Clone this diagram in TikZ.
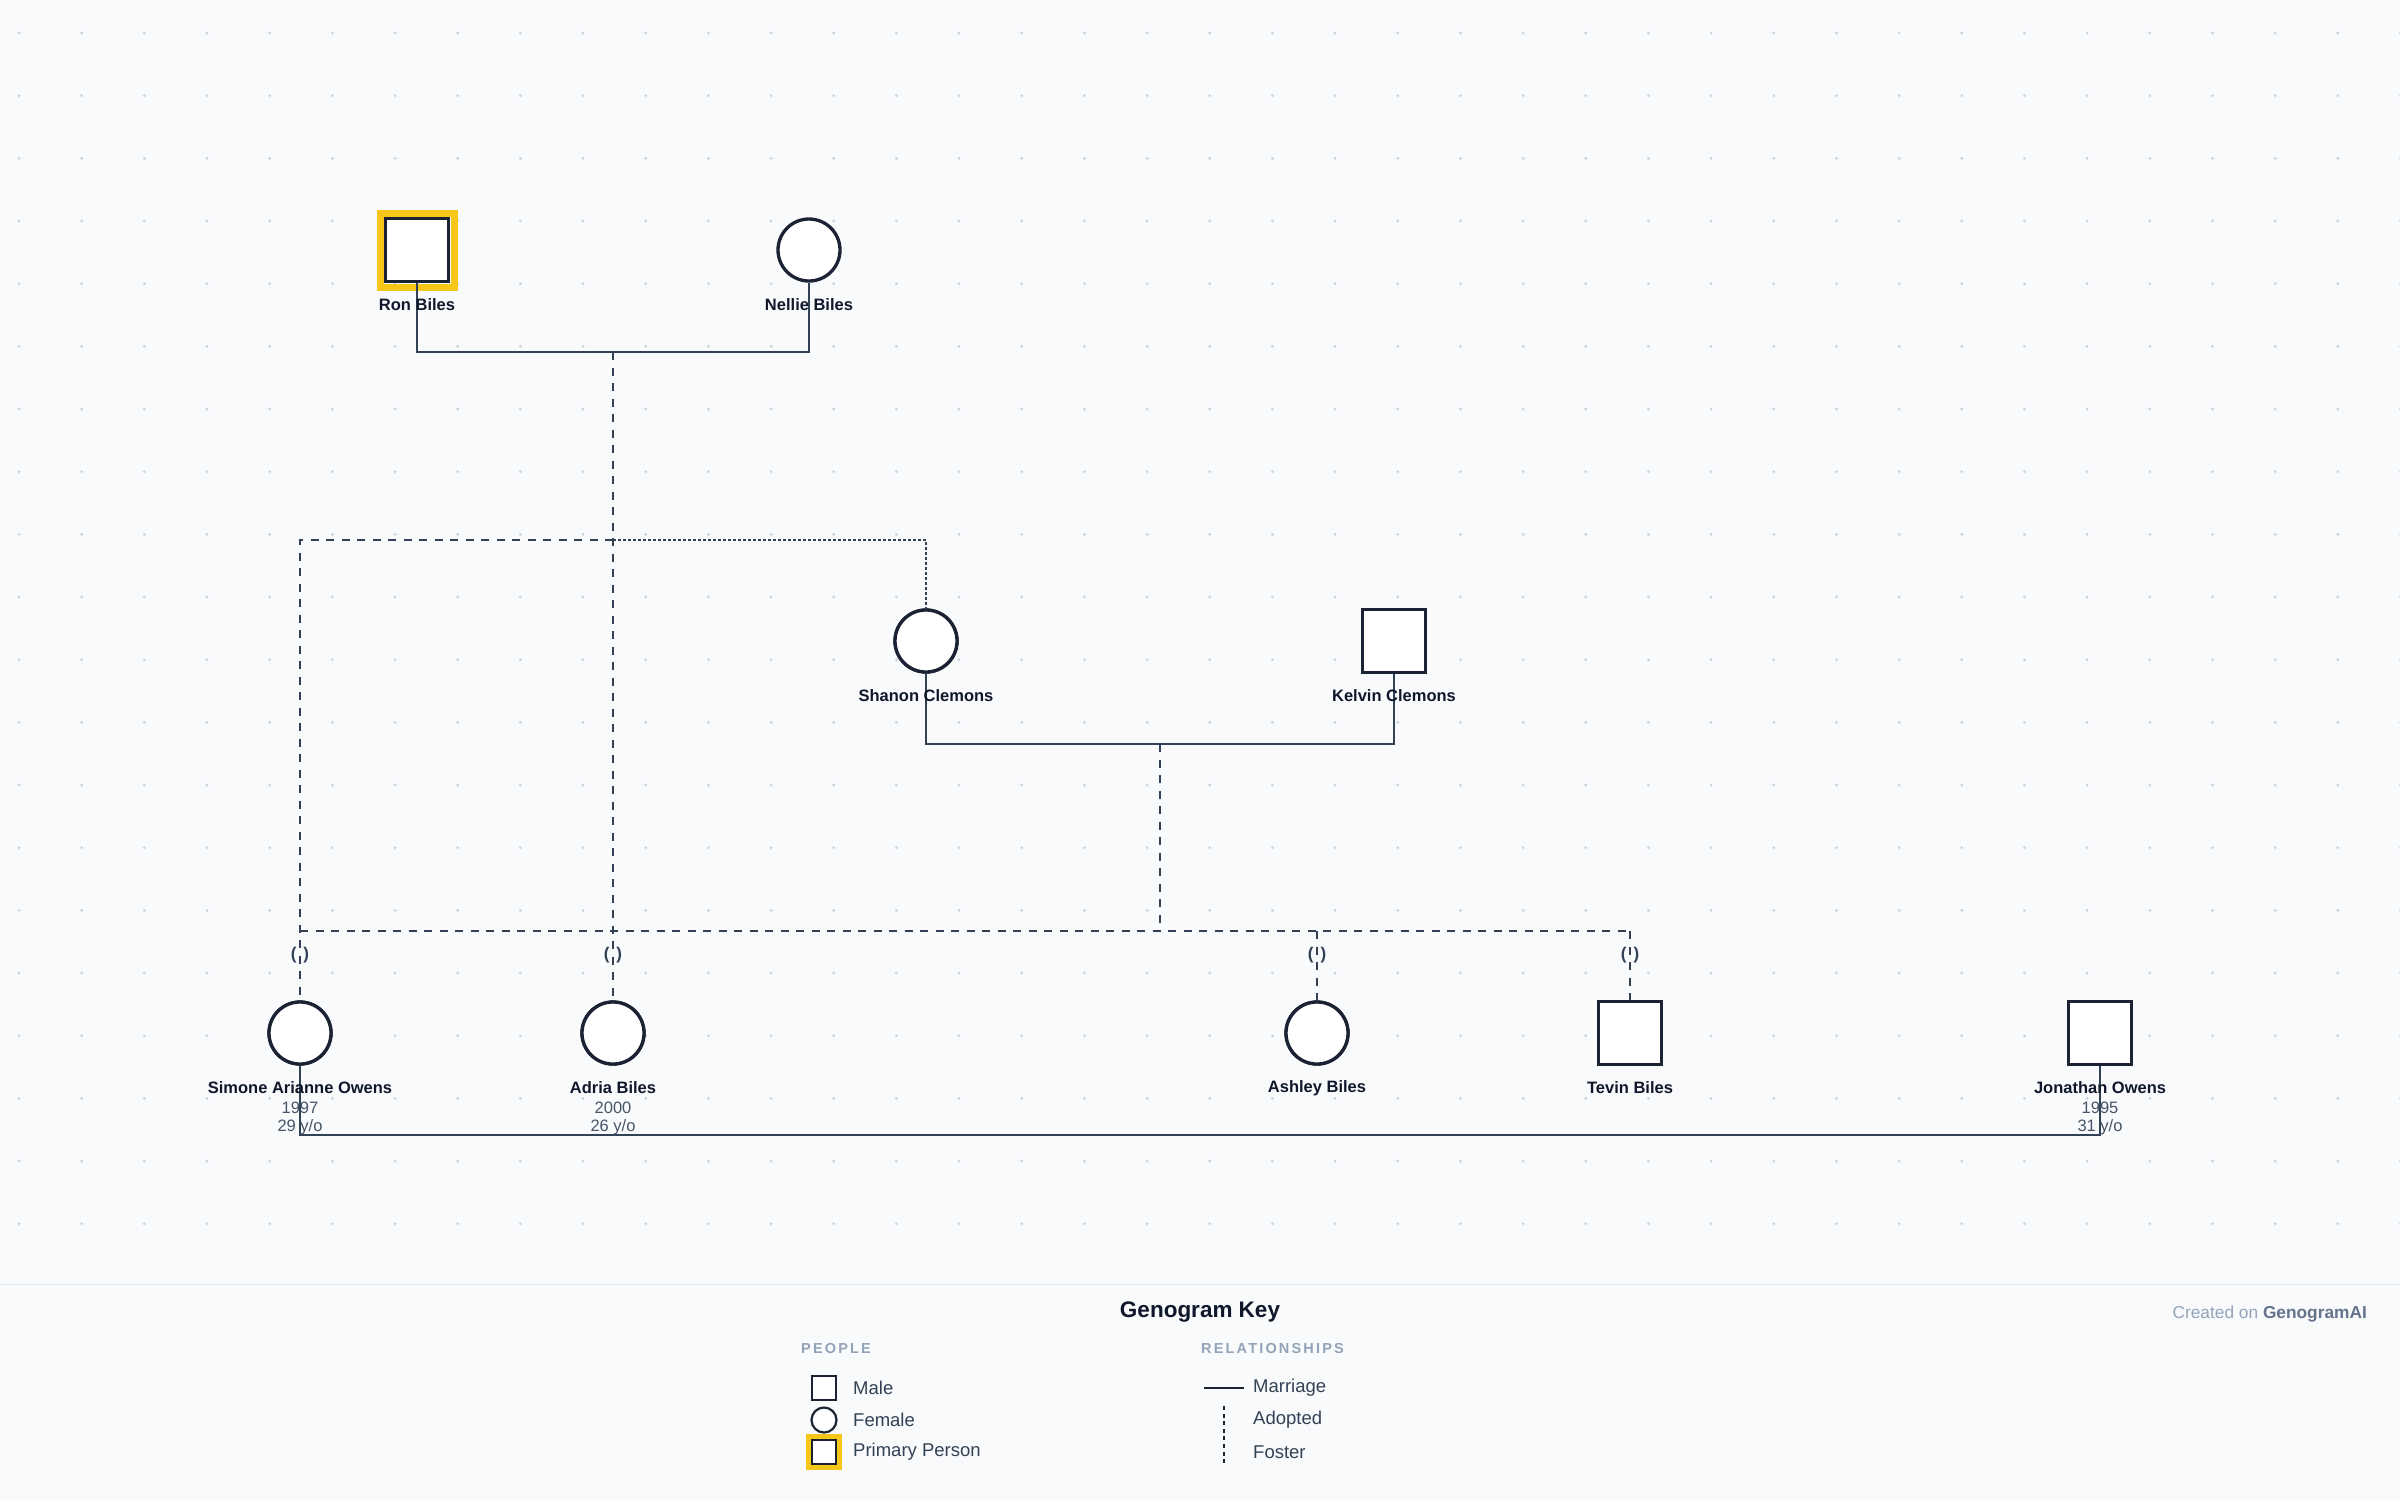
\documentclass[tikz,border=0pt]{standalone}
\usepackage{fontspec}
\setmainfont{Liberation Sans}
\definecolor{bgc}{HTML}{F8FAFC}
\definecolor{dotc}{HTML}{CBD5E1}
\definecolor{linec}{HTML}{334155}
\definecolor{shapec}{HTML}{1A2233}
\definecolor{textc}{HTML}{0F172A}
\definecolor{subc}{HTML}{475569}
\definecolor{yelc}{HTML}{F6C619}
\definecolor{sepc}{HTML}{E2E8F0}
\definecolor{headc}{HTML}{94A3B8}
\definecolor{credc}{HTML}{64748B}
\tikzset{
  male/.style={rectangle, draw=shapec, line width=3.3pt, fill=white, minimum size=63pt, inner sep=0pt},
  female/.style={circle, draw=shapec, line width=3.3pt, fill=white, minimum size=62pt, inner sep=0pt},
  primring/.style={rectangle, draw=yelc, line width=7pt, minimum size=74pt, inner sep=0pt},
  namel/.style={text=textc, font=\fontsize{16.5}{19}\selectfont\bfseries, inner sep=1pt},
  subl/.style={text=subc, font=\fontsize{16.5}{19}\selectfont, inner sep=1pt},
  marr/.style={draw=linec, line width=2pt},
  adopt/.style={draw=linec, line width=2pt, dash pattern=on 8pt off 7.5pt},
  foster/.style={draw=linec, line width=2pt, dash pattern=on 2.5pt off 2.5pt},
  flagmk/.style={text=linec, font=\fontsize{17}{19}\selectfont\bfseries, inner sep=0pt},
  keyhead/.style={text=headc, font=\fontsize{14.5}{17}\selectfont\bfseries\addfontfeatures{LetterSpace=15}, anchor=west, inner sep=0pt},
  keytext/.style={text=linec, font=\fontsize{18.5}{21}\selectfont, anchor=west, inner sep=0pt},
  kmale/.style={rectangle, draw=shapec, line width=2.2pt, fill=white, minimum size=24pt, inner sep=0pt},
  kfemale/.style={circle, draw=shapec, line width=2.2pt, fill=white, minimum size=25pt, inner sep=0pt},
  kring/.style={rectangle, draw=yelc, line width=4.6pt, minimum size=31.5pt, inner sep=0pt},
}
\begin{document}
\begin{tikzpicture}[x=1pt,y=-1pt]
\path[use as bounding box, fill=bgc] (0,0) rectangle (2400,1500);
% dot grid
\foreach \i in {0,...,38} {
  \foreach \j in {0,...,19} {
    \fill[dotc] ({19+62.67*\i},{33+62.67*\j}) circle (1.6);
  }
}
% coordinates
\coordinate (m1) at (613,352);
\coordinate (j1) at (613,540);
\coordinate (m2) at (1160,744);
\coordinate (j2) at (1160,931);
\coordinate (m3) at (1200,1135);

% people
\node[primring] (ronring) at (417,250) {};
\node[male] (ron) at (417,250) {};
\node[female] (nellie) at (809,250) {};
\node[female] (shanon) at (926,641) {};
\node[male] (kelvin) at (1394,641) {};
\node[female] (simone) at (300,1033) {};
\node[female] (adria) at (613,1033) {};
\node[female] (ashley) at (1317,1033) {};
\node[male] (tevin) at (1630,1033) {};
\node[male] (jon) at (2100,1033) {};

% connectors
\draw[marr] (ron.south) -- (ron.south |- m1) -- (nellie.south |- m1) -- (nellie.south);
\draw[adopt] (m1) -- (adria.north);
\draw[adopt] (j1) -| (simone.north);
\draw[foster] (j1) -| (shanon.north);
\draw[marr] (shanon.south) -- (shanon.south |- m2) -- (kelvin.south |- m2) -- (kelvin.south);
\draw[adopt] (m2) -- (j2);
\draw[adopt] (simone.north |- j2) -- (tevin.north |- j2);
\draw[adopt] (ashley.north |- j2) -- (ashley.north);
\draw[adopt] (tevin.north |- j2) -- (tevin.north);
\draw[marr] (simone.south) -- (simone.south |- m3) -- (jon.south |- m3) -- (jon.south);

% redraw shapes on top of connector ends
\node[female] at (shanon) {};
\node[female] at (simone) {};
\node[female] at (adria) {};
\node[female] at (ashley) {};
\node[male] at (tevin) {};

% adoption markers
\node[flagmk] (fk1) at (300,955) {(\hspace{7pt})};
\node[flagmk] (fk2) at (613,955) {(\hspace{7pt})};
\node[flagmk] (fk3) at (1317,955) {(\hspace{7pt})};
\node[flagmk] (fk4) at (1630,955) {(\hspace{7pt})};

% labels
\node[namel] (ronL) at (417,305) {Ron Biles};
\node[namel] (nellieL) at (809,305) {Nellie Biles};
\node[namel] (shanonL) at (926,696) {Shanon Clemons};
\node[namel] (kelvinL) at (1394,696) {Kelvin Clemons};
\node[namel] (simoneL) at (300,1088) {Simone Arianne Owens};
\node[subl] (simoneY) at (300,1108) {1997};
\node[subl] (simoneA) at (300,1127) {29 y/o};
\node[namel] (adriaL) at (613,1088) {Adria Biles};
\node[subl] (adriaY) at (613,1108) {2000};
\node[subl] (adriaA) at (613,1127) {26 y/o};
\node[namel] (ashleyL) at (1317,1088) {Ashley Biles};
\node[namel] (tevinL) at (1630,1088) {Tevin Biles};
\node[namel] (jonL) at (2100,1088) {Jonathan Owens};
\node[subl] (jonY) at (2100,1108) {1995};
\node[subl] (jonA) at (2100,1127) {31 y/o};

% legend
\coordinate (sepL) at (0,1284.5);
\coordinate (sepR) at (2400,1284.5);
\draw[sepc, line width=1.5pt] (sepL) -- (sepR);
\node[text=textc, font=\fontsize{22.5}{26}\selectfont\bfseries] (keytitle) at (1200,1312) {Genogram Key};
\node[anchor=east, font=\fontsize{17.3}{20}\selectfont, inner sep=0pt] (credit) at (2367,1314) {\textcolor{headc}{Created on} \textcolor{credc}{\bfseries GenogramAI}};
\node[keyhead] (peopleH) at (801,1348.3) {PEOPLE};
\node[keyhead] (relH) at (1201,1348.3) {RELATIONSHIPS};

\node[kmale] (kmaleS) at (824,1388) {};
\node[keytext] (kmaleT) at (853,1388) {Male};
\node[kfemale] (kfemS) at (824,1420) {};
\node[keytext] (kfemT) at (853,1420) {Female};
\node[kring] (kprimR) at (824,1452) {};
\node[kmale] (kprimS) at (824,1452) {};
\node[keytext] (kprimT) at (853,1452) {Primary Person};

\coordinate (kmA) at (1204,1388);
\coordinate (kmB) at (1244,1388);
\draw[draw=shapec, line width=2.5pt] (kmA) -- (kmB);
\node[keytext] (kmarT) at (1253,1388) {Marriage};
\coordinate (kdA) at (1224,1406);
\coordinate (kdB) at (1224,1466);
\draw[draw=shapec, line width=2.5pt, dash pattern=on 4pt off 3.6pt] (kdA) -- (kdB);
\node[keytext] (kadT) at (1253,1420) {Adopted};
\node[keytext] (kfoT) at (1253,1452) {Foster};
\end{tikzpicture}
\end{document}
